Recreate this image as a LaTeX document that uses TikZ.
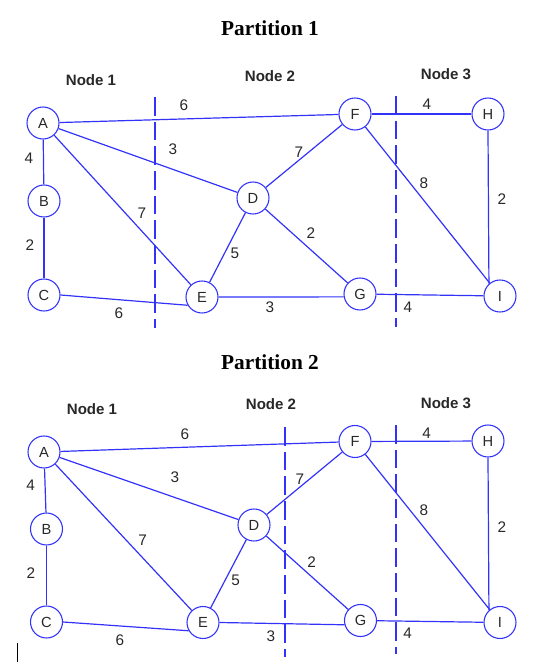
\documentclass[tikz,border=0pt]{standalone}
\usepackage{fontspec}
\setmainfont{Liberation Sans}
\newfontfamily\titlefont{Liberation Serif}
\definecolor{gblue}{RGB}{50,50,250}
\definecolor{txt}{RGB}{40,40,40}
\tikzset{
  vtx/.style={circle,draw=gblue,line width=0.8pt,minimum size=24pt,inner sep=0pt,font=\fontsize{11}{12}\selectfont,text=txt,fill=white},
  edge/.style={gblue,line width=0.9pt},
  wlab/.style={font=\fontsize{11.5}{12}\selectfont,text=txt,inner sep=0pt},
  part/.style={font=\titlefont\bfseries\fontsize{16}{18}\selectfont,text=black},
  mach/.style={font=\bfseries\fontsize{11.3}{12}\selectfont,text=txt},
  cut/.style={gblue,line width=1.1pt,dash pattern=on 14pt off 4.5pt}
}
\begin{document}
\begin{tikzpicture}[x=0.75pt,y=-0.75pt]
\useasboundingbox (0,0) rectangle (541,671);
% ---------------- Partition 1 ----------------
\node[part] (t1) at (270,28) {Partition 1};
\node[mach] (m11) at (91,80) {Node 1};
\node[mach] (m12) at (270,76) {Node 2};
\node[mach] (m13) at (446,74) {Node 3};
\coordinate (c1a) at (155,97);
\coordinate (c1b) at (155,328);
\coordinate (c2a) at (396,96);
\coordinate (c2b) at (396,327);
\draw[cut] (c1a) -- (c1b);
\draw[cut] (c2a) -- (c2b);
\node[vtx] (A1) at (43,123) {A};
\node[vtx] (B1) at (44,201) {B};
\node[vtx] (C1) at (44,295) {C};
\node[vtx] (D1) at (253,198) {D};
\node[vtx] (E1) at (202,297) {E};
\node[vtx] (F1) at (355,114) {F};
\node[vtx] (G1) at (360,294) {G};
\node[vtx] (H1) at (488,114) {H};
\node[vtx] (I1) at (500,296) {I};
\draw[edge] (A1) -- (F1);
\draw[edge] (A1) -- (D1);
\draw[edge] (A1) -- (E1);
\draw[edge] (A1) -- (B1);
\draw[edge] (B1) -- (C1);
\draw[edge] (C1.east) -- (E1.210);
\draw[edge] (E1) -- (D1);
\draw[edge] (E1.east) -- (G1.190);
\draw[edge] (D1) -- (F1);
\draw[edge] (D1) -- (G1);
\draw[edge] (F1) -- (H1);
\draw[edge] (F1) -- (I1);
\draw[edge] (H1.south) -- (I1.132);
\draw[edge] (G1) -- (I1);
\node[wlab] (w1af) at (184,105) {6};
\node[wlab] (w1ad) at (173,149) {3};
\node[wlab] (w1ae) at (142,213) {7};
\node[wlab] (w1ab) at (29,158) {4};
\node[wlab] (w1bc) at (30,245) {2};
\node[wlab] (w1ce) at (119,313) {6};
\node[wlab] (w1de) at (235,253) {5};
\node[wlab] (w1eg) at (270,307) {3};
\node[wlab] (w1df) at (299,152) {7};
\node[wlab] (w1dg) at (311,233) {2};
\node[wlab] (w1fi) at (424,183) {8};
\node[wlab] (w1fh) at (427,104) {4};
\node[wlab] (w1hi) at (502,199) {2};
\node[wlab] (w1gi) at (408,307) {4};
% ---------------- Partition 2 ----------------
\node[part] (t2) at (270,362) {Partition 2};
\node[mach] (m21) at (92,409) {Node 1};
\node[mach] (m22) at (271,404) {Node 2};
\node[mach] (m23) at (446,403) {Node 3};
\coordinate (d1a) at (285,427);
\coordinate (d1b) at (285,657);
\coordinate (d2a) at (396,425);
\coordinate (d2b) at (396,654);
\draw[cut] (d1a) -- (d1b);
\draw[cut] (d2a) -- (d2b);
\node[vtx] (A2) at (44,452) {A};
\node[vtx] (B2) at (46.5,529) {B};
\node[vtx] (C2) at (46.5,622) {C};
\node[vtx] (D2) at (254,525) {D};
\node[vtx] (E2) at (203,622.5) {E};
\node[vtx] (F2) at (355,441.5) {F};
\node[vtx] (G2) at (360.5,620.5) {G};
\node[vtx] (H2) at (488,441) {H};
\node[vtx] (I2) at (500,622.5) {I};
\draw[edge] (A2) -- (F2);
\draw[edge] (A2) -- (D2);
\draw[edge] (A2) -- (E2);
\draw[edge] (A2) -- (B2);
\draw[edge] (B2) -- (C2);
\draw[edge] (C2.east) -- (E2.210);
\draw[edge] (E2) -- (D2);
\draw[edge] (E2.east) -- (G2.195);
\draw[edge] (D2) -- (F2);
\draw[edge] (D2) -- (G2);
\draw[edge] (F2) -- (H2);
\draw[edge] (F2) -- (I2);
\draw[edge] (H2.south) -- (I2.132);
\draw[edge] (G2) -- (I2);
\node[wlab] (w2af) at (185,434) {6};
\node[wlab] (w2ad) at (175,477) {3};
\node[wlab] (w2ae) at (142.7,540.7) {7};
\node[wlab] (w2ab) at (30.7,485.7) {4};
\node[wlab] (w2bc) at (31,573) {2};
\node[wlab] (w2ce) at (120,640.7) {6};
\node[wlab] (w2de) at (235.7,580.7) {5};
\node[wlab] (w2eg) at (271,636) {3};
\node[wlab] (w2df) at (300,479) {7};
\node[wlab] (w2dg) at (311.7,561.7) {2};
\node[wlab] (w2fi) at (424,510.7) {8};
\node[wlab] (w2fh) at (426.7,433) {4};
\node[wlab] (w2hi) at (502,527) {2};
\node[wlab] (w2gi) at (407.7,633) {4};
% cursor mark
\coordinate (k1) at (17.3,643);
\coordinate (k2) at (17.3,662);
\draw[black,line width=0.8pt] (k1) -- (k2);
\end{tikzpicture}
\end{document}
